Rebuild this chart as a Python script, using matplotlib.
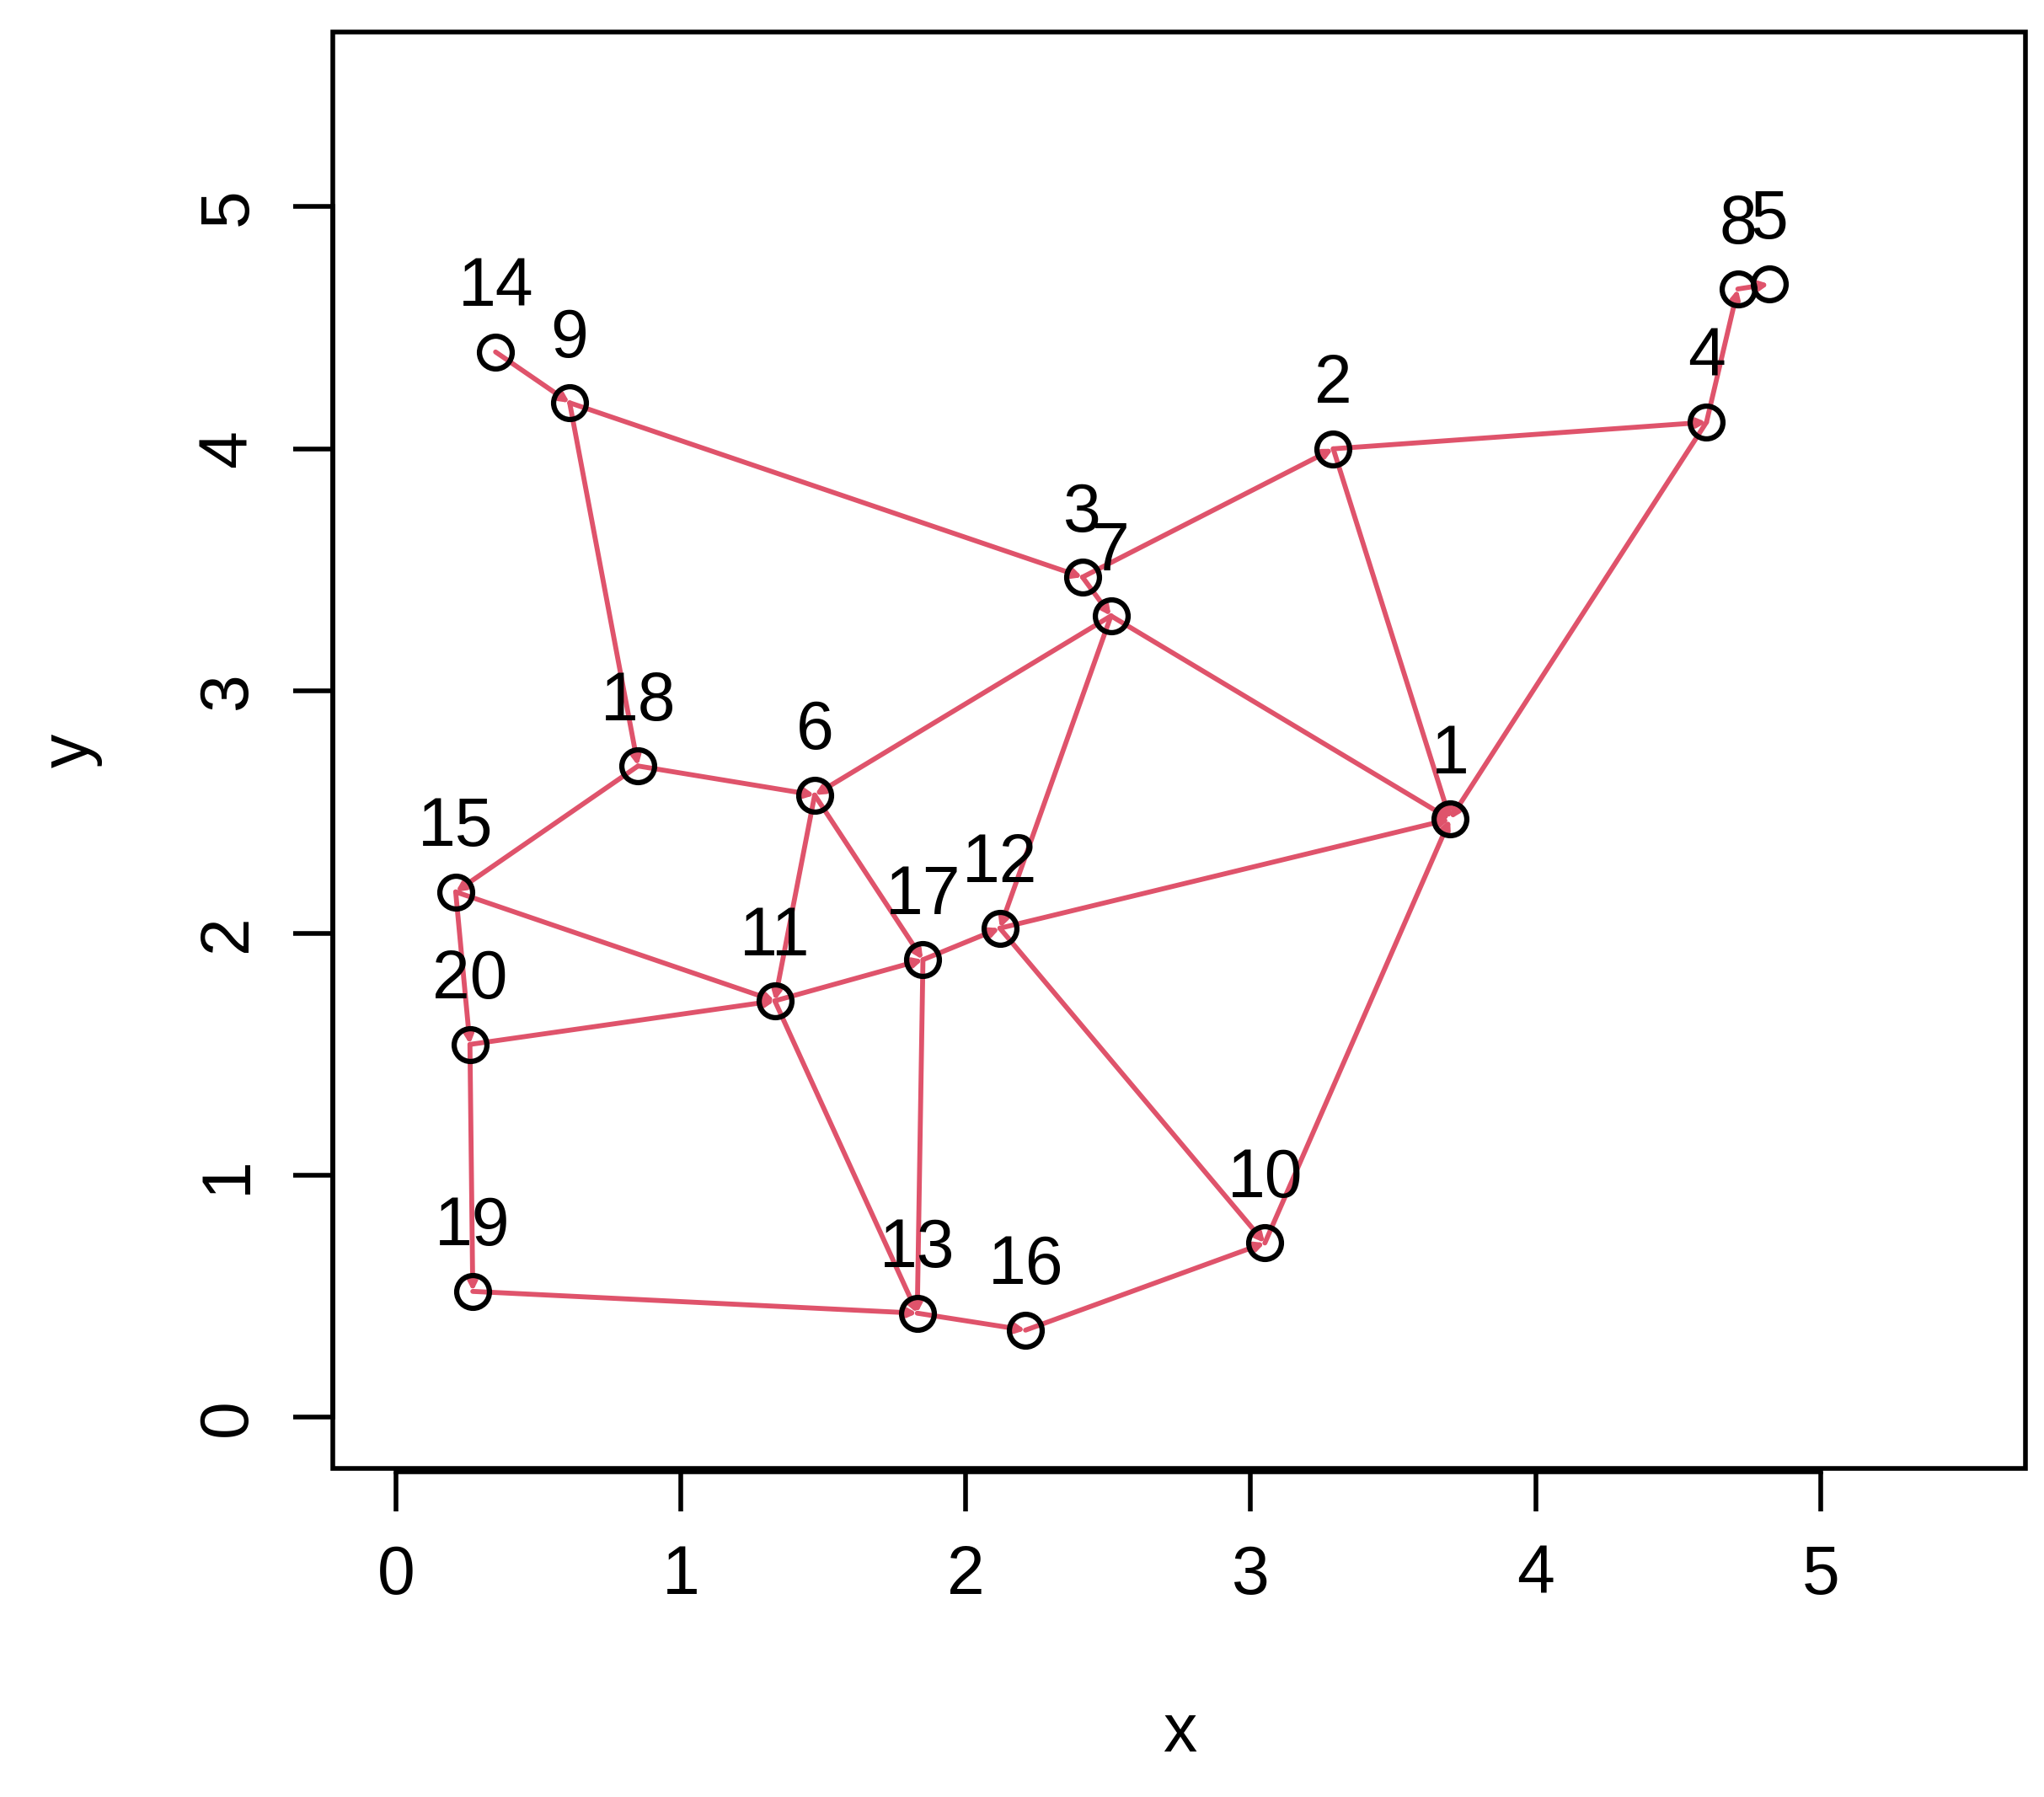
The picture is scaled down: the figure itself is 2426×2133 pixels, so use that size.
import matplotlib
matplotlib.use("Agg")
import matplotlib.pyplot as plt
from matplotlib.patches import Rectangle

node_ids = list(range(1, 21))
xs = [3.70, 3.29, 2.41, 4.60, 4.82, 1.47, 2.51, 4.71, 0.61, 3.05,
      1.33, 2.12, 1.83, 0.35, 0.21, 2.21, 1.85, 0.85, 0.27, 0.26]
ys = [2.47, 4.00, 3.47, 4.11, 4.68, 2.57, 3.31, 4.66, 4.19, 0.72,
      1.72, 2.02, 0.43, 4.40, 2.17, 0.36, 1.89, 2.69, 0.52, 1.54]
edges = [(14, 9), (9, 3), (9, 18), (3, 7), (3, 2), (2, 4), (2, 1), (4, 1), (4, 8), (8, 5),
         (7, 6), (7, 1), (7, 12), (18, 6), (18, 15), (6, 11), (6, 17), (15, 11), (15, 20),
         (20, 11), (11, 17), (17, 12), (12, 1), (12, 10), (11, 13), (17, 13), (20, 19),
         (19, 13), (13, 16), (16, 10), (10, 1)]
ticks = [0, 1, 2, 3, 4, 5]

plt.rcParams['font.family'] = ['Liberation Sans', 'DejaVu Sans']
fig = plt.figure(figsize=(24.26, 21.33), dpi=100)
ax = fig.add_axes([0.163, 0.183, 0.828, 0.799])
red = '#DF536B'
for a, b in edges:
    ax.annotate('', xy=(xs[b-1], ys[b-1]), xytext=(xs[a-1], ys[a-1]),
                arrowprops=dict(arrowstyle='-|>', color=red, lw=4.2, mutation_scale=14,
                                shrinkA=0, shrinkB=0))
ax.plot(xs, ys, 'o', ms=28, mfc='none', mec='black', mew=4.5, zorder=5)
for i, x, y in zip(node_ids, xs, ys):
    ax.text(x, y + 0.13, str(i), ha='center', va='bottom', fontsize=58, zorder=6)

ax.set_xlim(-0.22, 5.72)
ax.set_ylim(-0.21, 5.72)
for s in ['top', 'right']:
    ax.spines[s].set_visible(False)
for s in ['bottom', 'left']:
    ax.spines[s].set_linewidth(4)
ax.spines['bottom'].set_position(('outward', 3))
ax.spines['bottom'].set_bounds(0, 5)
ax.spines['left'].set_bounds(0, 5)
ax.add_patch(Rectangle((0, 0), 1, 1, transform=ax.transAxes, fill=False, lw=4,
                       ec='black', clip_on=False, zorder=10))
ax.set_xticks(ticks)
ax.set_yticks(ticks)
ax.tick_params(length=34, width=4, labelsize=58, pad=28)
for lab in ax.get_yticklabels():
    lab.set_rotation(90)
    lab.set_va('center')
ax.set_xlabel('x', fontsize=58, labelpad=80)
ax.set_ylabel('y', fontsize=58, labelpad=80)
fig.savefig('out.png', dpi=100)
